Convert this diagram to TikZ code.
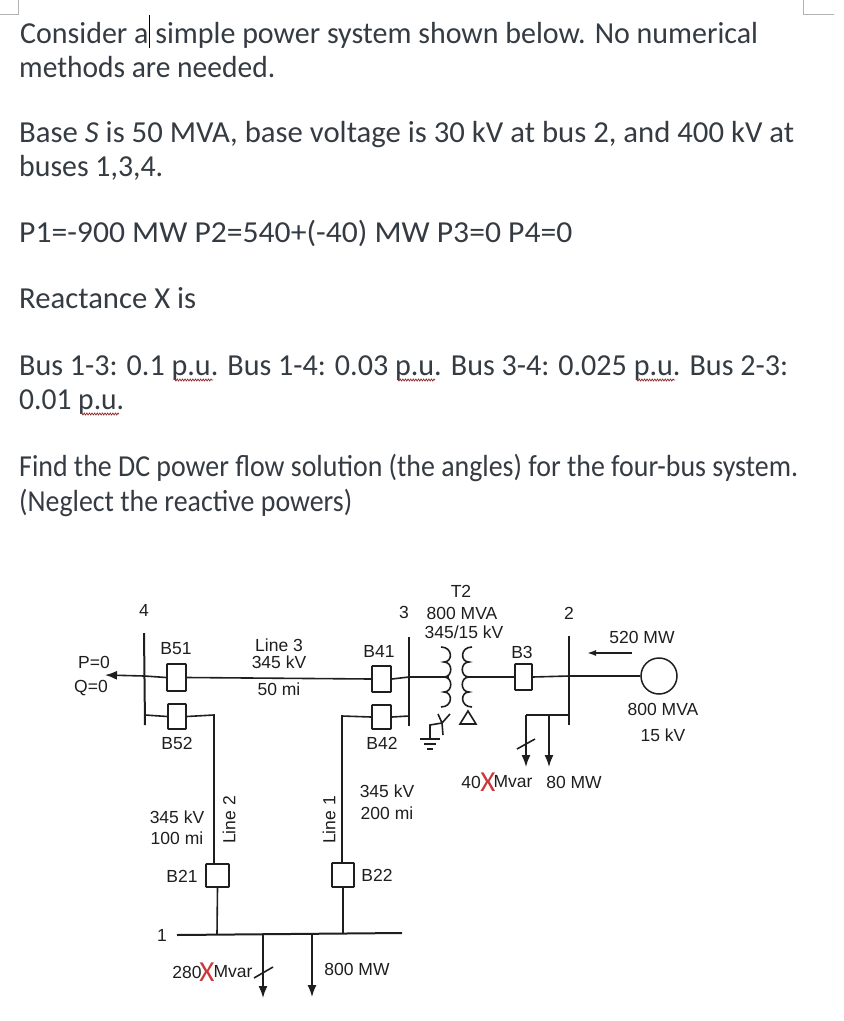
\documentclass[tikz,border=0pt]{standalone}
\usepackage{fontspec}
\setmainfont{Carlito}
\newfontfamily\figfont{Liberation Sans}
\usetikzlibrary{arrows.meta,decorations.pathmorphing}
\definecolor{txt}{HTML}{343B42}
\definecolor{ink}{HTML}{1E1E1E}
\definecolor{xred}{HTML}{C8383C}
\newcommand{\fitline}[2]{\resizebox{#1pt}{\height}{#2}}
\tikzset{x=1pt,y=-1pt,
  para/.style={anchor=base west,inner sep=0pt,text=txt,font=\fontsize{30.5}{34}\selectfont},
  lab/.style={inner sep=0pt,text=ink,font=\figfont\fontsize{17.5}{19}\selectfont},
  wire/.style={draw=ink,line width=1.6pt},
  busbar/.style={draw=ink,line width=2pt},
  brk/.style={draw=ink,line width=1.6pt,fill=white,rounded corners=0.5pt,inner sep=0pt},
  flow/.style={wire,-{Latex[length=12pt,width=9pt]}},
  wavy/.style={draw=xred!70!black,line width=0.7pt,decorate,decoration={zigzag,segment length=2.6pt,amplitude=1pt}},
  redx/.style={inner sep=0pt,text=xred,font=\fontsize{29}{29}\selectfont}
}
\begin{document}
\begin{tikzpicture}
\useasboundingbox (0,0) rectangle (844,1021);
% page marks
\draw[gray!60,line width=0.7pt] (0,14.5) -- (18.5,14.5) -- (18.5,0);
\draw[gray!60,line width=0.7pt] (834,14.5) -- (803,14.5) -- (803,0);
\draw[black,line width=0.8pt] (149,15) -- (149,48);
% text
\node[para] (t1) at (20,43) {\fitline{738}{Consider a simple power system shown below. No numerical}};
\node[para] (t2) at (19,77) {\fitline{256}{methods are needed.}};
\node[para] (t3) at (19,142) {\fitline{775}{Base \textit{S} is 50 MVA, base voltage is 30 kV at bus 2, and 400 kV at}};
\node[para] (t4) at (19,176) {\fitline{144}{buses 1,3,4.}};
\node[para] (t5) at (19,242) {\fitline{553}{P1=-900 MW P2=540+(-40) MW P3=0 P4=0}};
\node[para] (t6) at (19,308.5) {\fitline{177}{Reactance X is}};
\node[para] (t7) at (19,375) {\fitline{769}{Bus 1-3: 0.1 p.u. Bus 1-4: 0.03 p.u. Bus 3-4: 0.025 p.u. Bus 2-3:}};
\node[para] (t8) at (19,409) {\fitline{105}{0.01 p.u.}};
\node[para] (t9) at (19,476) {\fitline{779}{Find the DC power flow solution (the angles) for the four-bus system.}};
\node[para] (t10) at (19,511) {\fitline{333}{(Neglect the reactive powers)}};
\coordinate (w1a) at (174,380); \coordinate (w1b) at (213,380);
\coordinate (w2a) at (397,380); \coordinate (w2b) at (435,380);
\coordinate (w3a) at (636,380); \coordinate (w3b) at (675,380);
\coordinate (w4a) at (81,414); \coordinate (w4b) at (119,414);
\draw[wavy] (w1a)--(w1b); \draw[wavy] (w2a)--(w2b); \draw[wavy] (w3a)--(w3b); \draw[wavy] (w4a)--(w4b);
% buses
\coordinate (b4t) at (144,633); \coordinate (b4b) at (145,725);
\coordinate (b3t) at (409,637); \coordinate (b3b) at (409,726);
\coordinate (b2t) at (569,636); \coordinate (b2b) at (569,725);
\coordinate (b1l) at (177,935); \coordinate (b1r) at (402,933);
\draw[busbar] (b4t)--(b4b); \draw[busbar] (b3t)--(b3b); \draw[busbar] (b2t)--(b2b); \draw[busbar] (b1l)--(b1r);
% breakers
\node[brk,minimum width=19pt,minimum height=27pt] (B51) at (176.5,677.5) {};
\node[brk,minimum width=19pt,minimum height=26pt] (B41) at (381.5,679) {};
\node[brk,minimum width=18pt,minimum height=25pt] (B52) at (177,716.5) {};
\node[brk,minimum width=19pt,minimum height=24pt] (B42) at (381.5,717) {};
\node[brk,minimum width=23pt,minimum height=23pt] (B21) at (217.5,875.5) {};
\node[brk,minimum width=22pt,minimum height=24pt] (B22) at (343,875) {};
\node[brk,minimum width=17pt,minimum height=26pt] (B3) at (523.5,677) {};
\node[draw=ink,line width=1.5pt,circle,fill=white,minimum size=36pt,inner sep=0pt] (G) at (659,676) {};
% line 3
\coordinate (n4a) at (144.5,676); \coordinate (n3a) at (409,677);
\coordinate (pq) at (105,675);
\draw[flow] (B51.west) -- (n4a) -- (pq);
\draw[wire] (B51.east) -- (B41.west);
\draw[wire] (B41.east) -- (n3a);
% line 2
\coordinate (n4b) at (145,715); \coordinate (c2) at (214,715);
\coordinate (n1a) at (217,934.5);
\draw[wire] (n4b) -- (B52.west);
\draw[wire] (B52.east) -- (c2) -- (B21.north -| c2);
\draw[wire] (B21.south) -- (n1a);
% line 1
\coordinate (n3b) at (409,716); \coordinate (c1) at (342,716);
\coordinate (n1b) at (343,933.5);
\draw[wire] (n3b) -- (B42.east);
\draw[wire] (B42.west) -- (c1) -- (B22.north -| c1);
\draw[wire] (B22.south) -- (n1b);
% transformer
\coordinate (n3c) at (409,677); \coordinate (p0) at (449,677);
\coordinate (s0) at (466,677); \coordinate (n2a) at (569,676);
\draw[wire] (n3c) -- (p0);
\draw[wire] (s0) -- (B3.west);
\draw[wire] (B3.east) -- (n2a) -- (G.west);
\coordinate (pt) at (441,647); \coordinate (st) at (472,647);
\draw[wire] (pt) .. controls (453,647) and (453,662) .. (444,662)
  .. controls (453,662) and (453,677) .. (444,677)
  .. controls (453,677) and (453,692) .. (444,692)
  .. controls (453,692) and (453,707) .. (441,707);
\draw[wire] (st) .. controls (460,647) and (460,662) .. (469,662)
  .. controls (460,662) and (460,677) .. (469,677)
  .. controls (460,677) and (460,692) .. (469,692)
  .. controls (460,692) and (460,707) .. (472,707);
% wye and ground
\coordinate (yj) at (442,723); \coordinate (yl) at (438,714); \coordinate (yr) at (450,714); \coordinate (ys) at (443,735);
\draw[wire] (yl)--(yj)--(yr) (yj)--(ys);
\coordinate (g0) at (430,725); \coordinate (g1) at (430,739);
\draw[wire] (yj)--(g0)--(g1);
\coordinate (g2a) at (420,739); \coordinate (g2b) at (440,739);
\coordinate (g3a) at (424,744); \coordinate (g3b) at (436,744);
\coordinate (g4a) at (427,749); \coordinate (g4b) at (433,749);
\draw[wire] (g2a)--(g2b) (g3a)--(g3b) (g4a)--(g4b);
% delta
\coordinate (d1) at (468,711); \coordinate (d2) at (460,724); \coordinate (d3) at (476,724);
\draw[wire] (d1)--(d2)--(d3)--cycle;
% bus 2 load
\coordinate (n2b) at (569,715); \coordinate (ld1) at (526,715); \coordinate (ld2) at (549,715);
\coordinate (ld1t) at (526,767); \coordinate (ld2t) at (549,767);
\draw[wire] (n2b)--(ld1);
\draw[flow] (ld1)--(ld1t);
\draw[flow] (ld2)--(ld2t);
\coordinate (sl1) at (517,749); \coordinate (sl2) at (535,739);
\draw[wire] (sl1)--(sl2);
% generator arrow
\coordinate (ga) at (632,653); \coordinate (gb) at (587,653);
\draw[wire,-{Latex[length=9pt,width=6pt]}] (ga)--(gb);
% bus 1 load
\coordinate (l1a) at (263,935); \coordinate (l1b) at (263,998);
\coordinate (l2a) at (312,934); \coordinate (l2b) at (312,997);
\draw[flow] (l1a)--(l1b);
\draw[flow] (l2a)--(l2b);
\coordinate (sl3) at (254,978); \coordinate (sl4) at (273,967);
\draw[wire] (sl3)--(sl4);
% labels
\node[lab] (n4) at (144,610) {4};
\node[lab] (n3) at (404,612) {3};
\node[lab] (n2) at (569,613) {2};
\node[lab] (n1) at (162,935) {1};
\node[lab] (lb51) at (176,649) {B51};
\node[lab] (lb41) at (379,651) {B41};
\node[lab] (lb52) at (177,743) {B52};
\node[lab] (lb42) at (382,743) {B42};
\node[lab] (lb21) at (182,876) {B21};
\node[lab] (lb22) at (377,875) {B22};
\node[lab] (lb3) at (522,652) {B3};
\node[lab] (lp) at (94,662) {P=0};
\node[lab] (lq) at (91,688) {Q=0};
\node[lab] (ll3) at (279,645) {Line 3};
\node[lab] (ll3a) at (279,662) {345 kV};
\node[lab] (ll3b) at (279,689) {50 mi};
\node[lab] (lt2) at (461,591) {T2};
\node[lab] (lt2a) at (462,613) {800 MVA};
\node[lab] (lt2b) at (464,632) {345/15 kV};
\node[lab] (lg0) at (642,637) {520 MW};
\node[lab] (lg1) at (663,709) {800 MVA};
\node[lab] (lg2) at (663,735) {15 kV};
\node[lab] (la1) at (471,782) {40};
\node[redx] (xa) at (488,782) {X};
\node[lab] (la2) at (513,782) {Mvar};
\node[lab] (la3) at (574,782) {80 MW};
\node[lab] (ll1a) at (387,791) {345 kV};
\node[lab] (ll1b) at (387,813) {200 mi};
\node[lab] (ll2a) at (177,817) {345 kV};
\node[lab] (ll2b) at (177,838) {100 mi};
\node[lab,rotate=90] (ll2) at (229,820) {Line 2};
\node[lab,rotate=90] (ll1) at (329,820) {Line 1};
\node[lab] (lc1) at (187,972) {280};
\node[redx] (xc) at (207,972) {X};
\node[lab] (lc2) at (233,972) {Mvar};
\node[lab] (lc3) at (357,969) {800 MW};
\end{tikzpicture}
\end{document}
